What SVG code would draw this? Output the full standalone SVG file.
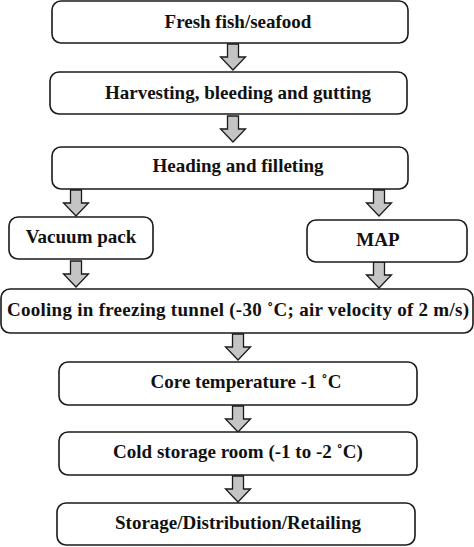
<svg xmlns="http://www.w3.org/2000/svg" width="474" height="547" viewBox="0 0 474 547">
<defs>
<style>
.box{fill:#fff;stroke:#1a1a1a;stroke-width:1.6}
.arr{fill:#c4c4c4;stroke:#1a1a1a;stroke-width:1.3;stroke-linejoin:miter}
text{font-family:"Liberation Serif","Times New Roman",serif;font-weight:bold;font-size:19px;fill:#111;text-anchor:middle}
</style>
<path id="ar" d="M-5.5,0 H5.5 V13 H12.5 L0,26 L-12.5,13 H-5.5 Z"/>
</defs>
<rect width="474" height="547" fill="#fff"/>
<g id="connectors">
<use href="#ar" class="arr" x="233" y="44"/>
<use href="#ar" class="arr" x="233" y="116"/>
<use href="#ar" class="arr" x="76" y="190"/>
<use href="#ar" class="arr" x="379" y="190"/>
<use href="#ar" class="arr" x="76" y="261"/>
<use href="#ar" class="arr" x="379" y="262"/>
<use href="#ar" class="arr" x="238" y="334"/>
<use href="#ar" class="arr" x="238" y="406"/>
<use href="#ar" class="arr" x="238" y="476"/>
</g>
<g id="n1"><rect class="box" x="52" y="1" width="356" height="42" rx="9"/><text x="238" y="28">Fresh fish/seafood</text></g>
<g id="n2"><rect class="box" x="50" y="72" width="357" height="42" rx="9"/><text x="238" y="99">Harvesting, bleeding and gutting</text></g>
<g id="n3"><rect class="box" x="52" y="147" width="356" height="42" rx="9"/><text x="238" y="172">Heading and filleting</text></g>
<g id="n4"><rect class="box" x="9" y="217" width="144" height="42" rx="9"/><text x="81" y="243">Vacuum pack</text></g>
<g id="n5"><rect class="box" x="307" y="220" width="160" height="42" rx="9"/><text x="378" y="246">MAP</text></g>
<g id="n6"><rect class="box" x="1" y="289" width="472" height="44" rx="9"/><text x="238" y="316" textLength="462" lengthAdjust="spacing">Cooling in freezing tunnel (-30 ˚C; air velocity of 2 m/s)</text></g>
<g id="n7"><rect class="box" x="59" y="362" width="358" height="43" rx="9"/><text x="246" y="388">Core temperature -1 ˚C</text></g>
<g id="n8"><rect class="box" x="59" y="432" width="358" height="43" rx="9"/><text x="238" y="458">Cold storage room (-1 to -2 ˚C)</text></g>
<g id="n9"><rect class="box" x="57" y="503" width="358" height="42" rx="9"/><text x="238" y="529">Storage/Distribution/Retailing</text></g>
</svg>
